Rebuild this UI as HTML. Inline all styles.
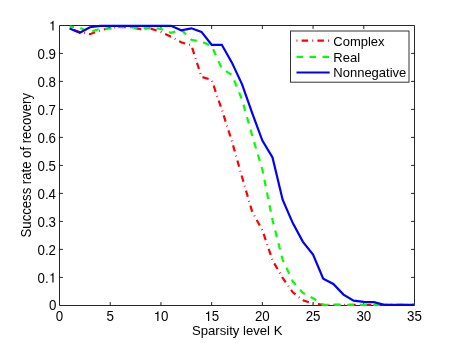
<!DOCTYPE html>
<html><head><meta charset="utf-8"><style>
html,body{margin:0;padding:0;background:#fff;width:457px;height:343px;overflow:hidden}
svg{display:block;will-change:transform}
</style></head><body>
<svg width="457" height="343" viewBox="0 0 457 343">
<rect x="0" y="0" width="457" height="343" fill="#fff"/>
<path fill="none" stroke="#262626" stroke-width="1" d="M59.5,25.5 H414.5 V305.5 H59.5 Z"/>
<path fill="none" stroke="#222" stroke-width="1" d="M110.21,305.5 V302.1 M110.21,25.5 V28.9 M160.93,305.5 V302.1 M160.93,25.5 V28.9 M211.64,305.5 V302.1 M211.64,25.5 V28.9 M262.36,305.5 V302.1 M262.36,25.5 V28.9 M313.07,305.5 V302.1 M313.07,25.5 V28.9 M363.79,305.5 V302.1 M363.79,25.5 V28.9 M59.5,277.40 H62.9 M414.5,277.40 H411.1 M59.5,249.40 H62.9 M414.5,249.40 H411.1 M59.5,221.40 H62.9 M414.5,221.40 H411.1 M59.5,193.40 H62.9 M414.5,193.40 H411.1 M59.5,165.40 H62.9 M414.5,165.40 H411.1 M59.5,137.40 H62.9 M414.5,137.40 H411.1 M59.5,109.40 H62.9 M414.5,109.40 H411.1 M59.5,81.40 H62.9 M414.5,81.40 H411.1 M59.5,53.40 H62.9 M414.5,53.40 H411.1"/>
<polyline fill="none" stroke="#ff0000" stroke-width="2.2" stroke-dasharray="6.45 4.22 0.8 4.22" stroke-dashoffset="-4.42" points="69.64,28.59 79.79,31.94 89.93,34.17 100.07,30.54 110.21,27.75 120.36,27.20 130.50,27.20 140.64,29.15 150.79,28.59 160.93,31.94 171.07,36.68 181.21,42.27 191.36,45.34 201.50,76.88 211.64,79.95 221.79,109.53 231.93,141.35 242.07,177.07 252.21,211.96 262.36,230.10 272.50,260.24 282.64,277.83 292.79,292.34 302.93,300.29 313.07,303.50 323.21,304.90 333.36,304.90 343.50,304.90 353.64,304.90 363.79,304.90 373.93,304.90 384.07,304.90 394.21,304.90 404.36,304.90 414.50,304.90"/>
<polyline fill="none" stroke="#00ff00" stroke-width="2.2" stroke-dasharray="6.6 6.4" stroke-dashoffset="2.3" points="69.64,26.64 79.79,27.75 89.93,31.94 100.07,28.87 110.21,28.59 120.36,26.64 130.50,27.20 140.64,28.59 150.79,28.03 160.93,28.87 171.07,32.78 181.21,29.71 191.36,39.75 201.50,41.71 211.64,45.90 221.79,68.50 231.93,74.92 242.07,99.76 252.21,135.77 262.36,169.54 272.50,220.05 282.64,259.69 292.79,281.46 302.93,292.90 313.07,298.20 323.21,304.90 333.36,304.90 343.50,304.90 353.64,304.90 363.79,304.90 373.93,304.90 384.07,304.90 394.21,304.90 404.36,304.90 414.50,304.90"/>
<polyline fill="none" stroke="#0000ff" stroke-width="2.2" points="69.64,28.59 79.79,32.78 89.93,27.20 100.07,25.80 110.21,25.80 120.36,25.80 130.50,25.80 140.64,25.80 150.79,25.80 160.93,25.80 171.07,25.80 181.21,30.27 191.36,28.31 201.50,31.94 211.64,44.78 221.79,44.78 231.93,62.64 242.07,84.41 252.21,113.16 262.36,140.51 272.50,157.54 282.64,199.68 292.79,223.12 302.93,241.82 313.07,254.66 323.21,278.66 333.36,283.97 343.50,294.57 353.64,300.71 363.79,301.83 373.93,302.11 384.07,304.90 394.21,304.90 404.36,304.90 414.50,304.90"/>
<g class="t" font-family="Liberation Sans, sans-serif" font-size="13.33" fill="#000">
<text transform="translate(59.50,321.00) scale(1.000,1.040)" text-anchor="middle">0</text>
<text transform="translate(110.21,321.00) scale(1.000,1.040)" text-anchor="middle">5</text>
<text transform="translate(160.93,321.00) scale(1.000,1.040)" text-anchor="middle"> 0</text><path transform="translate(153.515,321.000) scale(0.01333,-0.01386)" d="M283,0 H372 V709 H316 C297,620 262,582 127,575 V513 H283 Z"/>
<text transform="translate(211.64,321.00) scale(1.000,1.040)" text-anchor="middle"> 5</text><path transform="translate(204.229,321.000) scale(0.01333,-0.01386)" d="M283,0 H372 V709 H316 C297,620 262,582 127,575 V513 H283 Z"/>
<text transform="translate(262.36,321.00) scale(1.000,1.040)" text-anchor="middle">20</text>
<text transform="translate(313.07,321.00) scale(1.000,1.040)" text-anchor="middle">25</text>
<text transform="translate(363.79,321.00) scale(1.000,1.040)" text-anchor="middle">30</text>
<text transform="translate(414.50,321.00) scale(1.000,1.040)" text-anchor="middle">35</text>
<text transform="translate(56.40,309.80) scale(1.000,1.040)" text-anchor="end">0</text>
<text transform="translate(56.00,282.60) scale(1.000,1.040)" text-anchor="end">0. </text><path transform="translate(48.586,282.600) scale(0.01333,-0.01386)" d="M283,0 H372 V709 H316 C297,620 262,582 127,575 V513 H283 Z"/>
<text transform="translate(56.00,254.60) scale(1.000,1.040)" text-anchor="end">0.2</text>
<text transform="translate(56.00,226.60) scale(1.000,1.040)" text-anchor="end">0.3</text>
<text transform="translate(56.00,198.60) scale(1.000,1.040)" text-anchor="end">0.4</text>
<text transform="translate(56.00,170.60) scale(1.000,1.040)" text-anchor="end">0.5</text>
<text transform="translate(56.00,142.60) scale(1.000,1.040)" text-anchor="end">0.6</text>
<text transform="translate(56.00,114.60) scale(1.000,1.040)" text-anchor="end">0.7</text>
<text transform="translate(56.00,86.60) scale(1.000,1.040)" text-anchor="end">0.8</text>
<text transform="translate(56.00,58.60) scale(1.000,1.040)" text-anchor="end">0.9</text>
<text transform="translate(56.00,30.60) scale(1.000,1.040)" text-anchor="end"> </text><path transform="translate(48.586,30.600) scale(0.01333,-0.01386)" d="M283,0 H372 V709 H316 C297,620 262,582 127,575 V513 H283 Z"/>
<text transform="translate(237.20,334.70) scale(0.985,1.020)" text-anchor="middle">Sparsity level K</text>
<text transform="translate(30.90,165.20) rotate(-90) scale(0.985,1.030)" text-anchor="middle">Success rate of recovery</text>
</g>
<rect x="290.5" y="31.0" width="118.5" height="51.2" fill="#fff" stroke="#333" stroke-width="1"/>
<path d="M296.5,40.7 H329.7" stroke="#ff0000" stroke-width="2.2" stroke-dasharray="0.9 4.2 6.5 4.2" fill="none"/>
<path d="M296.5,56.8 H329.7" stroke="#00ff00" stroke-width="2.2" stroke-dasharray="6.6 6.4" fill="none"/>
<path d="M296.5,72.5 H329.7" stroke="#0000ff" stroke-width="2.2" fill="none"/>
<g class="t" font-family="Liberation Sans, sans-serif" font-size="13.0" fill="#000">
<text transform="translate(333.30,45.90) scale(1.000,1.000)">Complex</text>
<text transform="translate(333.30,61.70) scale(1.000,1.000)">Real</text>
<text transform="translate(333.30,76.80) scale(1.000,1.000)">Nonnegative</text>
</g>
</svg>
</body></html>
